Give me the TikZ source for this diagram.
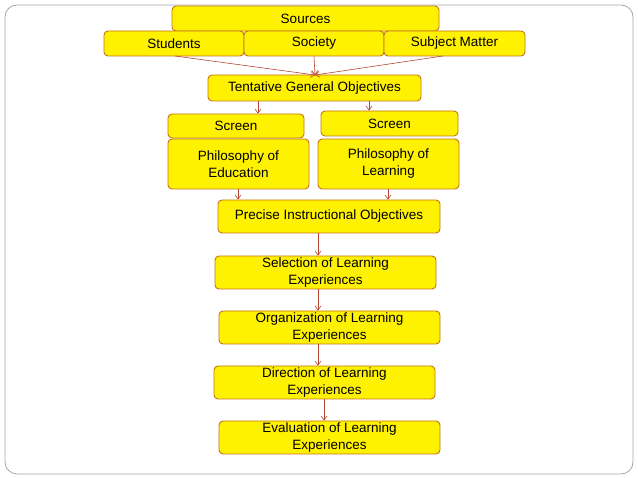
\documentclass[tikz,border=0pt]{standalone}
\usepackage{fontspec}
\usetikzlibrary{arrows.meta}
\setmainfont{Liberation Sans}
\definecolor{bord}{RGB}{195,115,25}
\definecolor{arr}{RGB}{180,70,50}
\begin{document}
\begin{tikzpicture}[x=1pt,y=-1pt,
  box/.style={draw=bord,fill=yellow,rounded corners=4pt,line width=0.9pt,align=center,font=\fontsize{13.5}{17}\selectfont,inner sep=0pt},
  con/.style={draw=arr,line width=0.6pt,-{Straight Barb[length=4pt,width=6pt]}}]
\useasboundingbox (0,0) rectangle (638,478);
\draw[gray!70,line width=0.8pt,rounded corners=12pt] (5,5) rectangle (633,474);
\newcommand{\bx}[6]{\node[box,minimum width=#4-#2,minimum height=#5-#3] (#1) at ({(#2+#4)/2},{(#3+#5)/2}) {#6};}
\bx{src}{172}{6}{439}{31}{Sources}
\bx{stu}{104}{31}{244}{56}{Students}
\bx{soc}{244}{31}{384}{56}{Society}
\bx{sub}{384}{31}{525}{56}{Subject Matter}
\bx{tgo}{208}{75}{421}{101}{Tentative General Objectives}
\bx{scl}{168}{114}{304}{138}{Screen}
\bx{scr}{321}{111}{458}{136}{Screen}
\bx{phe}{168}{139}{309}{189}{Philosophy of\\Education}
\bx{phl}{318}{139}{459}{189}{Philosophy of\\Learning}
\bx{pio}{218}{200}{440}{233}{Precise Instructional Objectives}
\bx{sel}{215}{256}{436}{289}{Selection of Learning\\Experiences}
\bx{org}{219}{311}{440}{344}{Organization of Learning\\Experiences}
\bx{dir}{214}{366}{435}{399}{Direction of Learning\\Experiences}
\bx{eva}{219}{421}{440}{454}{Evaluation of Learning\\Experiences}
\coordinate (m) at (315,75);
\draw[con] (175,56) -- (m);
\draw[con] (soc.south) -- (m);
\draw[con] (443,56) -- (m);
\draw[con] (258,101) -- (scl.north -| 258,0);
\draw[con] (369,101) -- (scr.north -| 369,0);
\draw[con] (238,189) -- (pio.north -| 238,0);
\draw[con] (388,189) -- (pio.north -| 388,0);
\draw[con] (318,233) -- (sel.north -| 318,0);
\draw[con] (318,289) -- (org.north -| 318,0);
\draw[con] (318,344) -- (dir.north -| 318,0);
\draw[con] (324,399) -- (eva.north -| 324,0);
\end{tikzpicture}
\end{document}
